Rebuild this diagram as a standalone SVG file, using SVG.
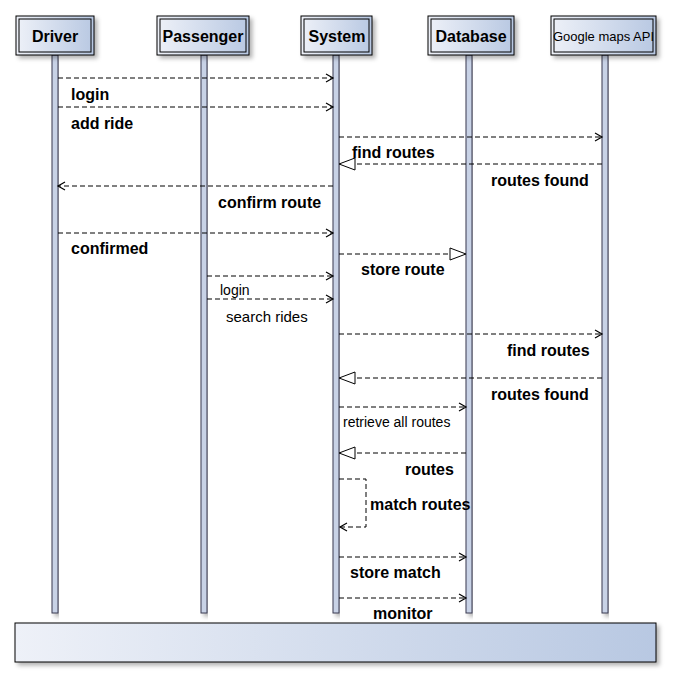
<svg xmlns="http://www.w3.org/2000/svg" width="700" height="678" viewBox="0 0 700 678">
<defs>
<linearGradient id="g" x1="0" y1="0" x2="1" y2="0"><stop offset="0" stop-color="#eef1f8"/><stop offset="1" stop-color="#b8c8e2"/></linearGradient>
<filter id="sh" x="-5%" y="-5%" width="115%" height="130%"><feDropShadow dx="3" dy="3" stdDeviation="2" flood-color="#000" flood-opacity="0.3"/></filter>
<marker id="open" markerWidth="10" markerHeight="10" refX="8" refY="5" orient="auto" markerUnits="userSpaceOnUse"><path d="M1,1 L8,5 L1,9" fill="none" stroke="#000" stroke-width="1.2"/></marker>
<marker id="tri" markerWidth="20" markerHeight="14" refX="17" refY="7" orient="auto" markerUnits="userSpaceOnUse"><path d="M1,1 L17,7 L1,13 Z" fill="#fff" stroke="#000" stroke-width="1"/></marker>
</defs>
<style>
.hd{fill:url(#g);stroke:#000;stroke-width:1;filter:url(#sh)}
.hi{fill:none;stroke:#000;stroke-width:1}
.ll{fill:#c8d2e6;stroke:#3a3a50;stroke-width:1;filter:url(#sh)}
.t{font-family:"Liberation Sans",Arial,sans-serif;font-size:16px;fill:#000}
.b{font-weight:bold}
.n{font-size:14px}
.m{fill:none;stroke:#000;stroke-width:1;stroke-dasharray:5,3}
</style>
<rect width="700" height="678" fill="#fff"/>
<g id="lifelines">
<rect class="ll" x="52" y="55" width="6" height="558"/>
<rect class="ll" x="201" y="55" width="6" height="558"/>
<rect class="ll" x="333" y="55" width="6" height="558"/>
<rect class="ll" x="466" y="55" width="6" height="558"/>
<rect class="ll" x="602" y="55" width="6" height="558"/>
</g>
<g id="driver"><rect class="hd" x="16" y="16" width="78" height="39"/><rect class="hi" x="19" y="19" width="72" height="33"/><text class="t b" x="55" y="42" text-anchor="middle">Driver</text></g>
<g id="passenger"><rect class="hd" x="157" y="16" width="92" height="39"/><rect class="hi" x="160" y="19" width="86" height="33"/><text class="t b" x="203" y="42" text-anchor="middle">Passenger</text></g>
<g id="system"><rect class="hd" x="301" y="16" width="71" height="39"/><rect class="hi" x="304" y="19" width="65" height="33"/><text class="t b" x="337" y="42" text-anchor="middle">System</text></g>
<g id="database"><rect class="hd" x="428" y="16" width="86" height="39"/><rect class="hi" x="431" y="19" width="80" height="33"/><text class="t b" x="471" y="42" text-anchor="middle">Database</text></g>
<g id="google"><rect class="hd" x="551" y="16" width="105" height="39"/><rect class="hi" x="554" y="19" width="99" height="33"/><text class="t" x="603.5" y="41" text-anchor="middle" style="font-size:13px">Google maps API</text></g>
<g id="frame"><rect class="hd" x="15" y="623" width="641" height="39"/></g>
<g id="connectors">
<line class="m" x1="58" y1="78" x2="333" y2="78" marker-end="url(#open)"/>
<line class="m" x1="58" y1="107" x2="333" y2="107" marker-end="url(#open)"/>
<line class="m" x1="339" y1="137" x2="602" y2="137" marker-end="url(#open)"/>
<line class="m" x1="602" y1="164" x2="339" y2="164" marker-end="url(#tri)"/>
<line class="m" x1="333" y1="186" x2="58" y2="186" marker-end="url(#open)"/>
<line class="m" x1="58" y1="233" x2="333" y2="233" marker-end="url(#open)"/>
<line class="m" x1="339" y1="254" x2="466" y2="254" marker-end="url(#tri)"/>
<line class="m" x1="207" y1="276" x2="333" y2="276" marker-end="url(#open)"/>
<line class="m" x1="207" y1="299" x2="333" y2="299" marker-end="url(#open)"/>
<line class="m" x1="339" y1="334" x2="602" y2="334" marker-end="url(#open)"/>
<line class="m" x1="602" y1="378" x2="339" y2="378" marker-end="url(#tri)"/>
<line class="m" x1="339" y1="407" x2="466" y2="407" marker-end="url(#open)"/>
<line class="m" x1="466" y1="453" x2="339" y2="453" marker-end="url(#tri)"/>
<path class="m" d="M339,479 H366 V527 H340" marker-end="url(#open)"/>
<line class="m" x1="339" y1="557" x2="466" y2="557" marker-end="url(#open)"/>
<line class="m" x1="339" y1="598" x2="466" y2="598" marker-end="url(#open)"/>
</g>
<g id="labels">
<text class="t b" x="71" y="100">login</text>
<text class="t b" x="71" y="129">add ride</text>
<text class="t b" x="352" y="158">find routes</text>
<text class="t b" x="491" y="186">routes found</text>
<text class="t b" x="218" y="208">confirm route</text>
<text class="t b" x="71" y="254">confirmed</text>
<text class="t b" x="361" y="275">store route</text>
<text class="t n" x="220" y="295">login</text>
<text class="t n" x="226" y="322" style="font-size:15px">search rides</text>
<text class="t b" x="507" y="356">find routes</text>
<text class="t b" x="491" y="400">routes found</text>
<text class="t n" x="343" y="427">retrieve all routes</text>
<text class="t b" x="405" y="475">routes</text>
<text class="t b" x="370" y="510">match routes</text>
<text class="t b" x="350" y="578">store match</text>
<text class="t b" x="373" y="619">monitor</text>
</g>
</svg>
